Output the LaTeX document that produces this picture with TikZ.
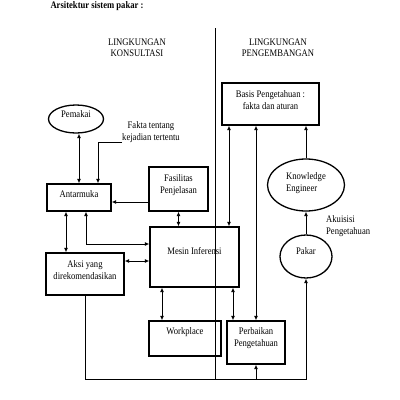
\documentclass[tikz,border=0pt]{standalone}
\usepackage{fontspec}
\setmainfont{Liberation Serif}[FakeStretch=0.86]
\usetikzlibrary{arrows.meta,shapes.geometric,calc}
\newcommand\dpx[1]{\rule[-#1]{0pt}{#1}}
\begin{document}
\begin{tikzpicture}[x=1pt,y=-1pt,
  font=\fontsize{10}{12}\selectfont,
  bx/.style={draw,line width=1.3pt,inner sep=1pt,align=center},
  el/.style={ellipse,draw,line width=1.3pt,inner sep=0pt,align=center},
  ln/.style={line width=0.9pt},
  arr/.style={ln,-{Latex[length=4.5pt,width=4pt]}},
  darr/.style={ln,{Latex[length=4.5pt,width=4pt]}-{Latex[length=4.5pt,width=4pt]}}]
\useasboundingbox[fill=white] (0,0) rectangle (400,400);

% title and headers
\node[anchor=base west,font=\fontsize{10}{12}\selectfont\bfseries] (title) at (47,8.5) {Arsitektur sistem pakar :};
\node[align=center,font=\fontsize{10}{11.5}\selectfont] (hk) at (137,47.5) {LINGKUNGAN\\KONSULTASI};
\node[align=center,font=\fontsize{10}{11.5}\selectfont] (hp) at (278,47.5) {LINGKUNGAN\\PENGEMBANGAN};

% nodes
\node[el,minimum width=55pt,minimum height=28pt] (pemakai) at (76,119) {Pemakai\dpx{10pt}};
\node[align=center,inner sep=0pt] (fakta) at (151,132) {Fakta tentang\\kejadian tertentu};
\node[bx,minimum width=64pt,minimum height=27pt] (antar) at (79,197.5) {Antarmuka\dpx{7pt}};
\node[bx,minimum width=59pt,minimum height=44pt] (fas) at (178.5,189) {Fasilitas\\Penjelasan\dpx{9pt}};
\node[bx,minimum width=89pt,minimum height=60pt] (mesin) at (194.5,257) {Mesin Inferensi\dpx{12pt}};
\node[bx,minimum width=78pt,minimum height=42pt] (aksi) at (85,274) {Aksi yang\\direkomendasikan\dpx{8pt}};
\node[bx,minimum width=72pt,minimum height=35pt] (work) at (185,338.5) {Workplace\dpx{15pt}};
\node[bx,minimum width=58pt,minimum height=43pt] (perb) at (256,342.5) {Perbaikan\\Pengetahuan\dpx{11pt}};
\node[bx,minimum width=97pt,minimum height=42pt] (basis) at (270.5,104) {Basis Pengetahuan :\\fakta dan aturan\dpx{8pt}};
\node[el,minimum width=77pt,minimum height=52pt,align=left] (ke) at (306,185) {Knowledge\\Engineer\dpx{6pt}\hspace{6pt}};
\node[el,minimum width=52pt,minimum height=43pt] (pakar) at (306,256.5) {Pakar\dpx{11pt}};
\node[anchor=west,align=left,inner sep=0pt] (akuisisi) at (326,226.5) {Akuisisi\\Pengetahuan};

% divider and bottom line
\coordinate (dt) at (215,28);
\coordinate (bl) at (86,379);
\draw[ln] (dt) -- (dt |- bl);

% helper coordinates
\coordinate (fk) at (98,142);
\coordinate (fasw) at ([yshift=-13pt]fas.west);
\coordinate (mesw1) at ([yshift=13pt]mesin.west);
\coordinate (mesw2) at ([yshift=-4pt]mesin.west);
\coordinate (antb1) at ([xshift=7pt]antar.south);
\coordinate (antb2) at ([xshift=-13pt]antar.south);
\coordinate (workn) at ([xshift=-23pt]work.north);
\coordinate (perbn) at ([xshift=-23pt]perb.north);
\coordinate (basb) at ([xshift=-41.5pt]basis.south);

% connectors
\draw[darr] (pemakai.south -| antar.north) -- (antar.north);
\draw[arr] (fakta.west |- fk) -- (fk) -- (fk |- antar.north);
\draw[arr] (fasw) -- (antar.east |- fasw);
\draw[darr] (fas.south) -- (fas.south |- mesin.north);
\draw[darr] (antb1) |- (mesw1);
\draw[darr] (antb2) -- (antb2 |- aksi.north);
\draw[darr] (mesw2) -- (aksi.east |- mesw2);
\draw[darr] (workn) -- (workn |- mesin.south);
\draw[darr] (perbn) -- (perbn |- mesin.south);
\draw[darr] (basb) -- (basb |- mesin.north);
\draw[darr] (perb.north) -- (perb.north |- basis.south);
\draw[arr] (ke.north) -- (ke.north |- basis.south);
\draw[arr] (pakar.north) -- (ke.south);
\draw[arr] (aksi.south) |- (pakar.south |- bl) -- (pakar.south);
\draw[arr] (perb.south |- bl) -- (perb.south);
\end{tikzpicture}
\end{document}
